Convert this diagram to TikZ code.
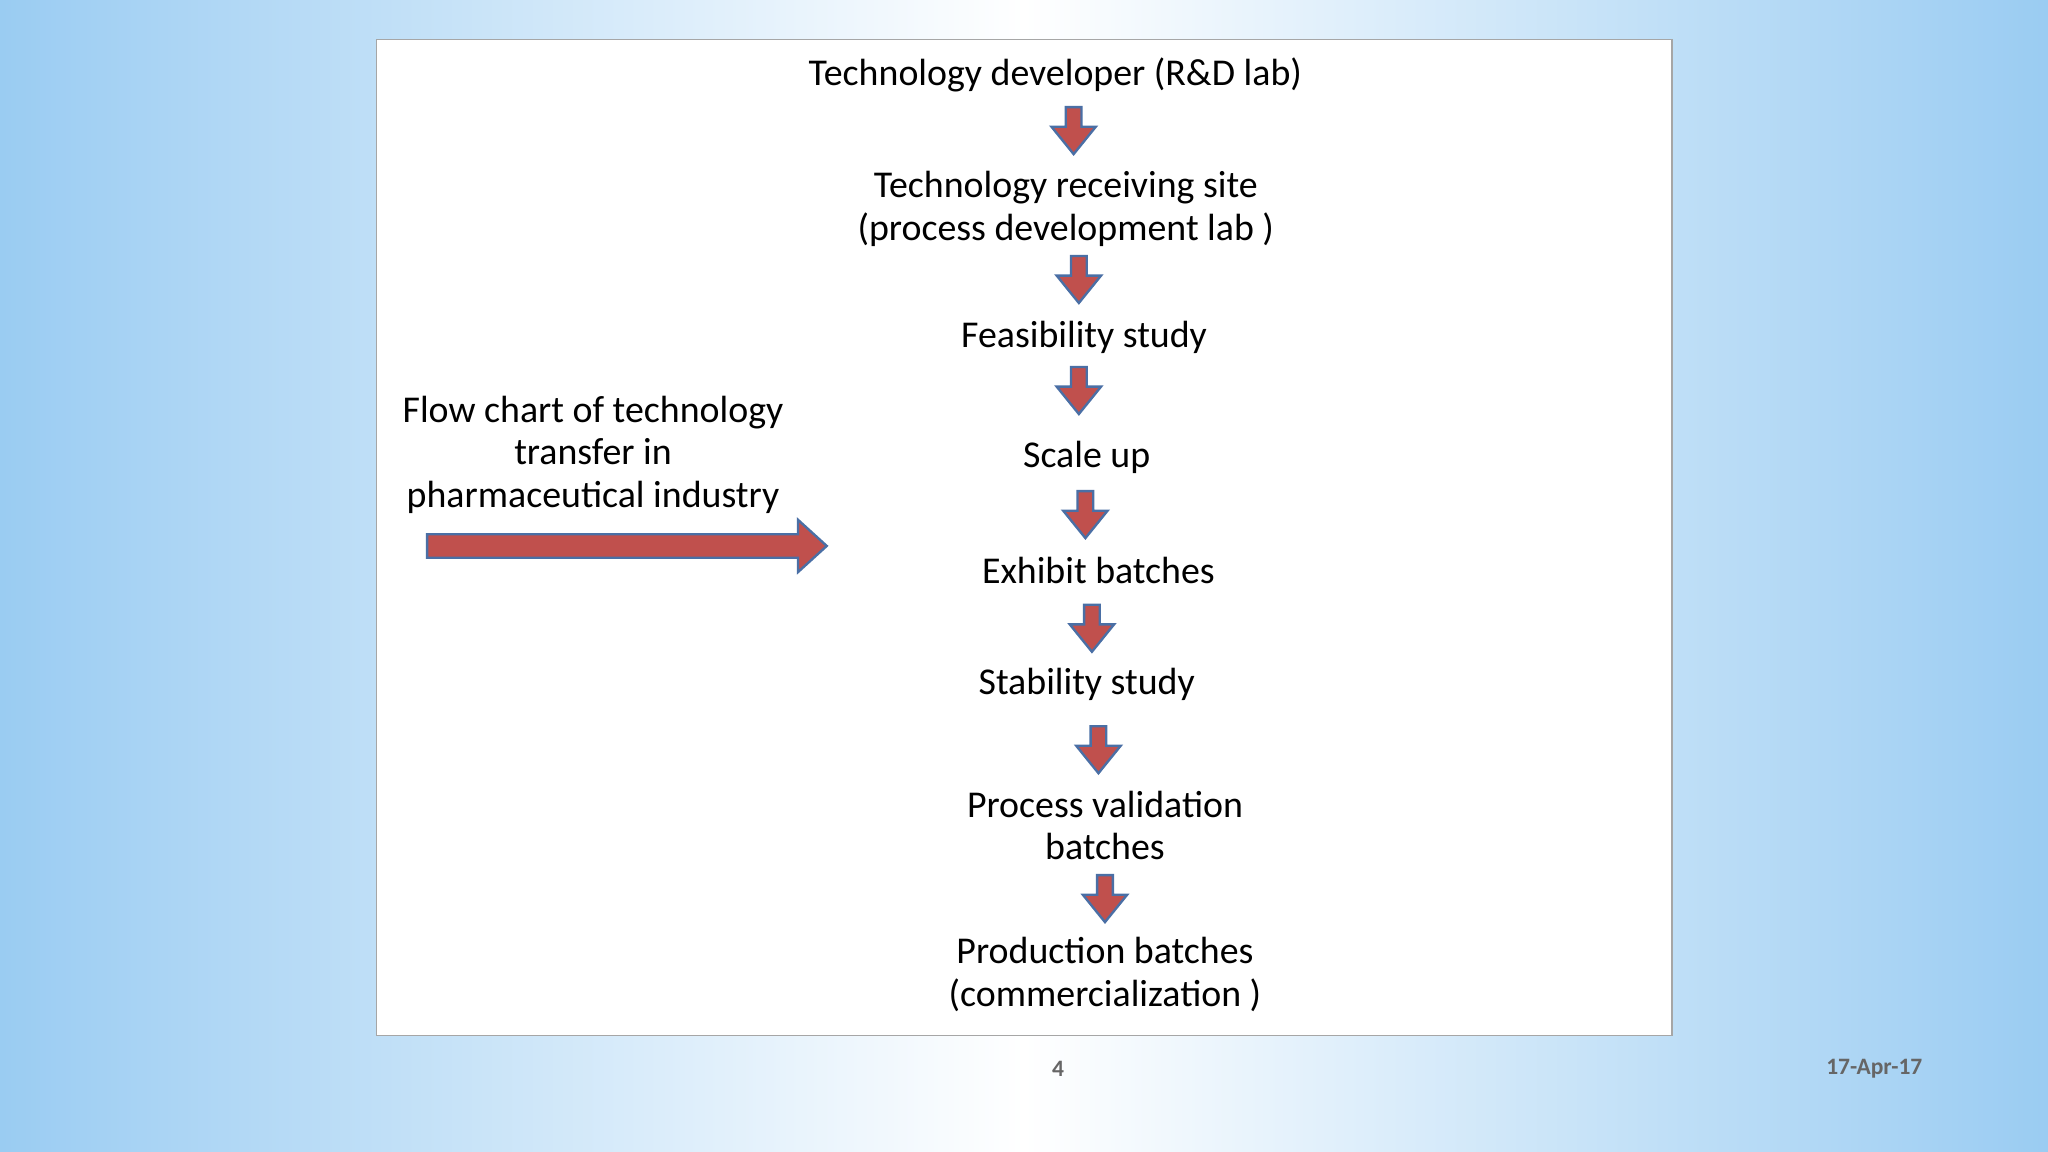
\documentclass[tikz,border=0pt]{standalone}
\usepackage{fontspec}
\setmainfont{Carlito}
\definecolor{bgblue}{HTML}{9ACCF2}
\definecolor{arrred}{HTML}{C0504D}
\definecolor{arrblue}{HTML}{4A6FA5}
\tikzset{
  lbl/.style={font=\fontsize{29}{32.5}\selectfont, text=black, align=center, inner sep=0pt},
  blockarr/.style={draw=arrblue, fill=arrred, line width=1.8pt, line join=miter},
  foot/.style={font=\fontsize{18}{20}\selectfont\bfseries, text=gray!80!black}
}
\newcommand{\dnarr}[3]{%
  \coordinate (#1) at (#2,#3);
  \draw[blockarr] ([shift={(-6,-18)}]#1) -- ([shift={(6,-18)}]#1) -- ([shift={(6,-3)}]#1)
   -- ([shift={(17,-3)}]#1) -- ([shift={(0,18)}]#1) -- ([shift={(-17,-3)}]#1)
   -- ([shift={(-6,-3)}]#1) -- cycle;}
\begin{document}
\begin{tikzpicture}[x=1pt,y=-1pt]
\useasboundingbox (0,0) rectangle (1568,882);
\shade[left color=bgblue, right color=white] (0,0) rectangle (784,882);
\shade[left color=white, right color=bgblue] (784,0) rectangle (1568,882);
\draw[fill=white, draw=gray!70, line width=1pt] (288,30) rectangle (1280,793);
\node[lbl] (t1) at (808,57) {Technology developer (R\&D lab)};
\dnarr{a1}{822}{100}
\node[lbl] (t2) at (816,160) {Technology receiving site\\(process development lab )};
\dnarr{a2}{826}{214}
\node[lbl] (t3) at (830,258) {Feasibility study};
\dnarr{a3}{826}{299}
\node[lbl] (t4) at (832,350) {Scale up};
\dnarr{a4}{831}{394}
\node[lbl] (t5) at (841,437) {Exhibit batches};
\dnarr{a5}{836}{481}
\node[lbl] (t6) at (832,524) {Stability study};
\dnarr{a6}{841}{574}
\node[lbl] (t7) at (846,632) {Process validation\\batches};
\dnarr{a7}{846}{688}
\node[lbl] (t8) at (846,746) {Production batches\\(commercialization )};
\node[lbl] (side) at (454,348) {Flow chart of technology\\transfer in\\pharmaceutical industry};
\coordinate (big) at (327,418);
\draw[blockarr] ([shift={(0,-9)}]big) -- ([shift={(284,-9)}]big) -- ([shift={(284,-20)}]big)
  -- ([shift={(306,0)}]big) -- ([shift={(284,20)}]big) -- ([shift={(284,9)}]big)
  -- ([shift={(0,9)}]big) -- cycle;
\node[foot] (pg) at (810,818) {4};
\node[foot] (dt) at (1435,818) {17-Apr-17};
\end{tikzpicture}
\end{document}
